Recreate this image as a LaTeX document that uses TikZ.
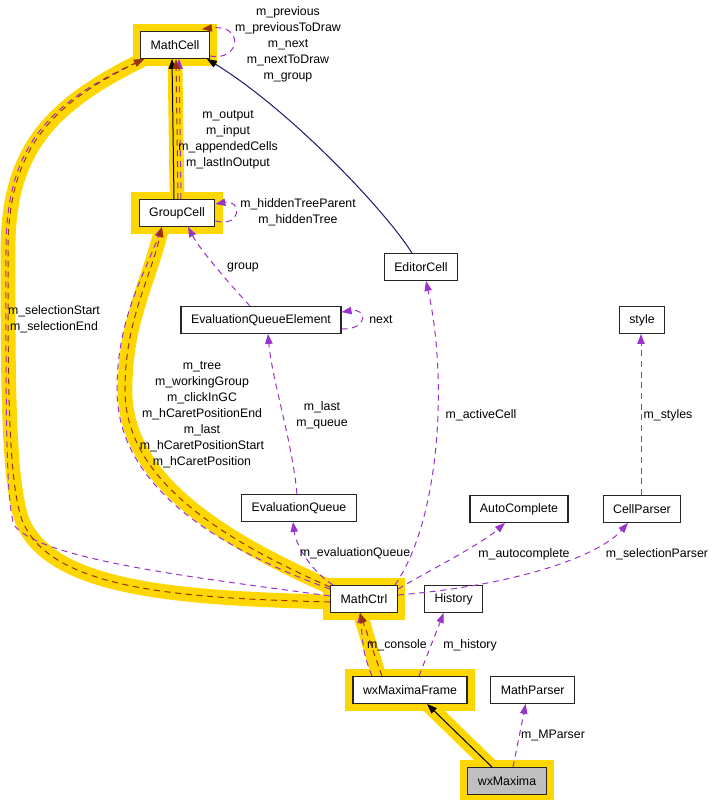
\documentclass[tikz,border=0pt]{standalone}
\usepackage{fontspec}
\setmainfont{Liberation Sans}
\usetikzlibrary{positioning, arrows.meta, calc, backgrounds}
\definecolor{usecol}{HTML}{9A32CD}
\definecolor{owncol}{HTML}{993300}
\definecolor{navycol}{HTML}{191970}
\definecolor{hlcol}{HTML}{FFD700}

\begin{document}
\begin{tikzpicture}[x=0.75pt,y=-0.75pt,
    every node/.style={font=\fontsize{9.25}{12}\selectfont},
    cls/.style={draw=black!85,line width=0.9pt,fill=white,minimum height=20pt,inner xsep=7.5pt,inner ysep=2pt},
    hl/.style={preaction={draw=hlcol,line width=12pt}},
    lbl/.style={align=center,inner sep=0pt},
    arr/.style={-{Triangle[length=7.5pt,width=5.5pt]}},
    usage/.style={arr,usecol,line width=0.75pt,dash pattern=on 4.5pt off 3.5pt},
    owned/.style={arr,owncol,line width=0.75pt,dash pattern=on 4.5pt off 3.5pt},
    inhline/.style={arr,black,line width=0.75pt},
    band/.style={hlcol,line width=11pt}]
    \useasboundingbox (0,0) rectangle (716,800);
    \node[cls,hl] (mathcell) at (175,45) {MathCell};
    \node[cls,hl] (groupcell) at (177,213) {GroupCell};
    \node[cls] (editorcell) at (421,267) {EditorCell};
    \node[cls] (queueelem) at (261,320) {EvaluationQueueElement};
    \node[cls] (cellstyle) at (642,320) {style};
    \node[cls] (evalqueue) at (299,508) {EvaluationQueue};
    \node[cls] (autocomplete) at (519,509) {AutoComplete};
    \node[cls] (cellparser) at (642,509) {CellParser};
    \node[cls,hl] (mathctrl) at (364,599) {MathCtrl};
    \node[cls] (history) [right=19.5pt of mathctrl] {History};
    \node[cls,hl] (wxframe) at (410,690) {wxMaximaFrame};
    \node[cls] (mathparser) [right=17pt of wxframe] {MathParser};
    \node[cls,hl,fill=black!25] (wxmaxima) at (507,781) {wxMaxima};

    \begin{scope}[on background layer]
        \draw[band] (groupcell.north) -- (mathcell.south);
        \draw[band] ($(mathctrl.north west)+(0,2)$) .. controls (200,530) and (125,470) .. (125,390)
            .. controls (125,320) and (150,280) .. ($(groupcell.south)+(-15,0)$);
        \draw[band] ($(mathctrl.west)+(0,3)$) .. controls (180,598) and (50,590) .. (22,520)
            .. controls (8,480) and (8,380) .. (8,250) .. controls (8,150) and (50,105) .. ($(mathcell.south west)+(4,0)$);
        \draw[band] ($(wxframe.north)+(-31,0)$) -- ($(mathctrl.south)+(-4,0)$);
        \draw[band] ($(wxmaxima.north)+(-15,0)$) -- ($(wxframe.south)+(17,0)$);
    \end{scope}

    \draw[inhline] ($(groupcell.north)+(-3,0)$) -- ($(mathcell.south)+(-3,0)$);
    \draw[usage] ($(groupcell.north)+(4,0)$) -- ($(mathcell.south)+(4,0)$);
    \draw[owned] ($(groupcell.north)+(1,0)$) -- ($(mathcell.south)+(1,0)$);
    \draw[usage,-{Triangle[length=7.5pt,width=5.5pt,color=owncol]}] ($(mathcell.south east)+(0,-3)$)
        .. controls (240,62) and (245,24) .. ($(mathcell.north east)+(-8,-2)$);
    \draw[navycol,line width=0.75pt,-{Triangle[length=7.5pt,width=5.5pt,color=black]}] ($(editorcell.north)+(-9,0)$)
        .. controls (385,210) and (290,110) .. ($(mathcell.south east)+(-3,0)$);
    \draw[usage] ($(groupcell.south east)+(0,-6)$) .. controls (242,228) and (242,199) .. ($(groupcell.north east)+(0,5)$);
    \draw[usage] ($(queueelem.north)+(-11,0)$) .. controls (235,290) and (200,250) .. ($(groupcell.south)+(11,0)$);
    \draw[usage] ($(queueelem.south east)+(0,-5)$) .. controls (368,330) and (368,308) .. ($(queueelem.north east)+(0,6)$);
    \draw[usage] ($(evalqueue.north)+(-2,0)$) .. controls (292,440) and (272,380) .. ($(queueelem.south)+(7,0)$);
    \draw[usage] ($(cellparser.north)+(-1,0)$) -- ($(cellstyle.south)+(-1,0)$);
    \draw[usage] ($(mathctrl.north east)+(-3,0)$) .. controls (440,520) and (448,380) .. ($(editorcell.south)+(5,0)$);
    \draw[usage] ($(mathctrl.north west)+(3,0)$) .. controls (310,570) and (296,545) .. ($(evalqueue.south)+(-6,0)$);
    \draw[usage] ($(mathctrl.north east)+(0,4)$) .. controls (430,570) and (480,545) .. ($(autocomplete.south)+(-14,0)$);
    \draw[usage] ($(mathctrl.east)+(0,-4)$) .. controls (520,585) and (600,555) .. ($(cellparser.south)+(-14,0)$);
    \draw[usage] ($(mathctrl.north west)+(0,4)$) .. controls (195,540) and (117,475) .. (117,390)
        .. controls (117,320) and (142,280) .. ($(groupcell.south)+(-15,0)$);
    \draw[owned] ($(mathctrl.north west)+(0,2)$) .. controls (200,530) and (125,470) .. (125,390)
        .. controls (125,320) and (150,280) .. ($(groupcell.south)+(-15,0)$);
    \draw[usage] ($(mathctrl.west)+(0,-3)$) .. controls (200,578) and (40,560) .. (14,525)
        .. controls (5,500) and (6,380) .. (6,250) .. controls (6,150) and (45,105) .. ($(mathcell.south west)+(4,0)$);
    \draw[owned] ($(mathctrl.west)+(0,3)$) .. controls (180,598) and (50,590) .. (22,520)
        .. controls (8,480) and (8,380) .. (8,250) .. controls (8,150) and (50,105) .. ($(mathcell.south west)+(4,0)$);
    \draw[usage] ($(wxframe.north)+(-38,0)$) .. controls (364,655) .. ($(mathctrl.south)+(-4,0)$);
    \draw[owned] ($(wxframe.north)+(-28,0)$) -- ($(mathctrl.south)+(-4,0)$);
    \draw[usage] ($(wxframe.north)+(9,0)$) -- ($(history.south)+(-10,0)$);
    \draw[inhline] ($(wxmaxima.north)+(-15,0)$) -- ($(wxframe.south)+(17,0)$);
    \draw[usage] ($(wxmaxima.north)+(6,0)$) -- ($(mathparser.south)+(-7,0)$);

    \node[lbl] (lblself) at (288,44) {m\_previous\\m\_previousToDraw\\m\_next\\m\_nextToDraw\\m\_group};
    \node[lbl] (lblgroupcell) at (228,140) {m\_output\\m\_input\\m\_appendedCells\\m\_lastInOutput};
    \node[lbl] (lblhidden) at (298,212) {m\_hiddenTreeParent\\m\_hiddenTree};
    \node[lbl] (lblgroup) at (243,267) {group};
    \node[lbl] (lblnext) at (381,320) {next};
    \node[lbl] (lblqueue) at (322,415) {m\_last\\m\_queue};
    \node[lbl] (lbltree) at (202,415) {m\_tree\\m\_workingGroup\\m\_clickInGC\\m\_hCaretPositionEnd\\m\_last\\m\_hCaretPositionStart\\m\_hCaretPosition};
    \node[lbl] (lblselection) at (54,319) {m\_selectionStart\\m\_selectionEnd};
    \node[lbl] (lblactive) at (481,415) {m\_activeCell};
    \node[lbl] (lblstyles) at (668,415) {m\_styles};
    \node[lbl] (lblevalqueue) at (355,553) {m\_evaluationQueue};
    \node[lbl] (lblauto) at (524,554) {m\_autocomplete};
    \node[lbl] (lblparser) at (657,554) {m\_selectionParser};
    \node[lbl] (lblconsole) at (397,645) {m\_console};
    \node[lbl] (lblhistory) at (470,645) {m\_history};
    \node[lbl] (lblmparser) at (553,735) {m\_MParser};
\end{tikzpicture}
\end{document}
